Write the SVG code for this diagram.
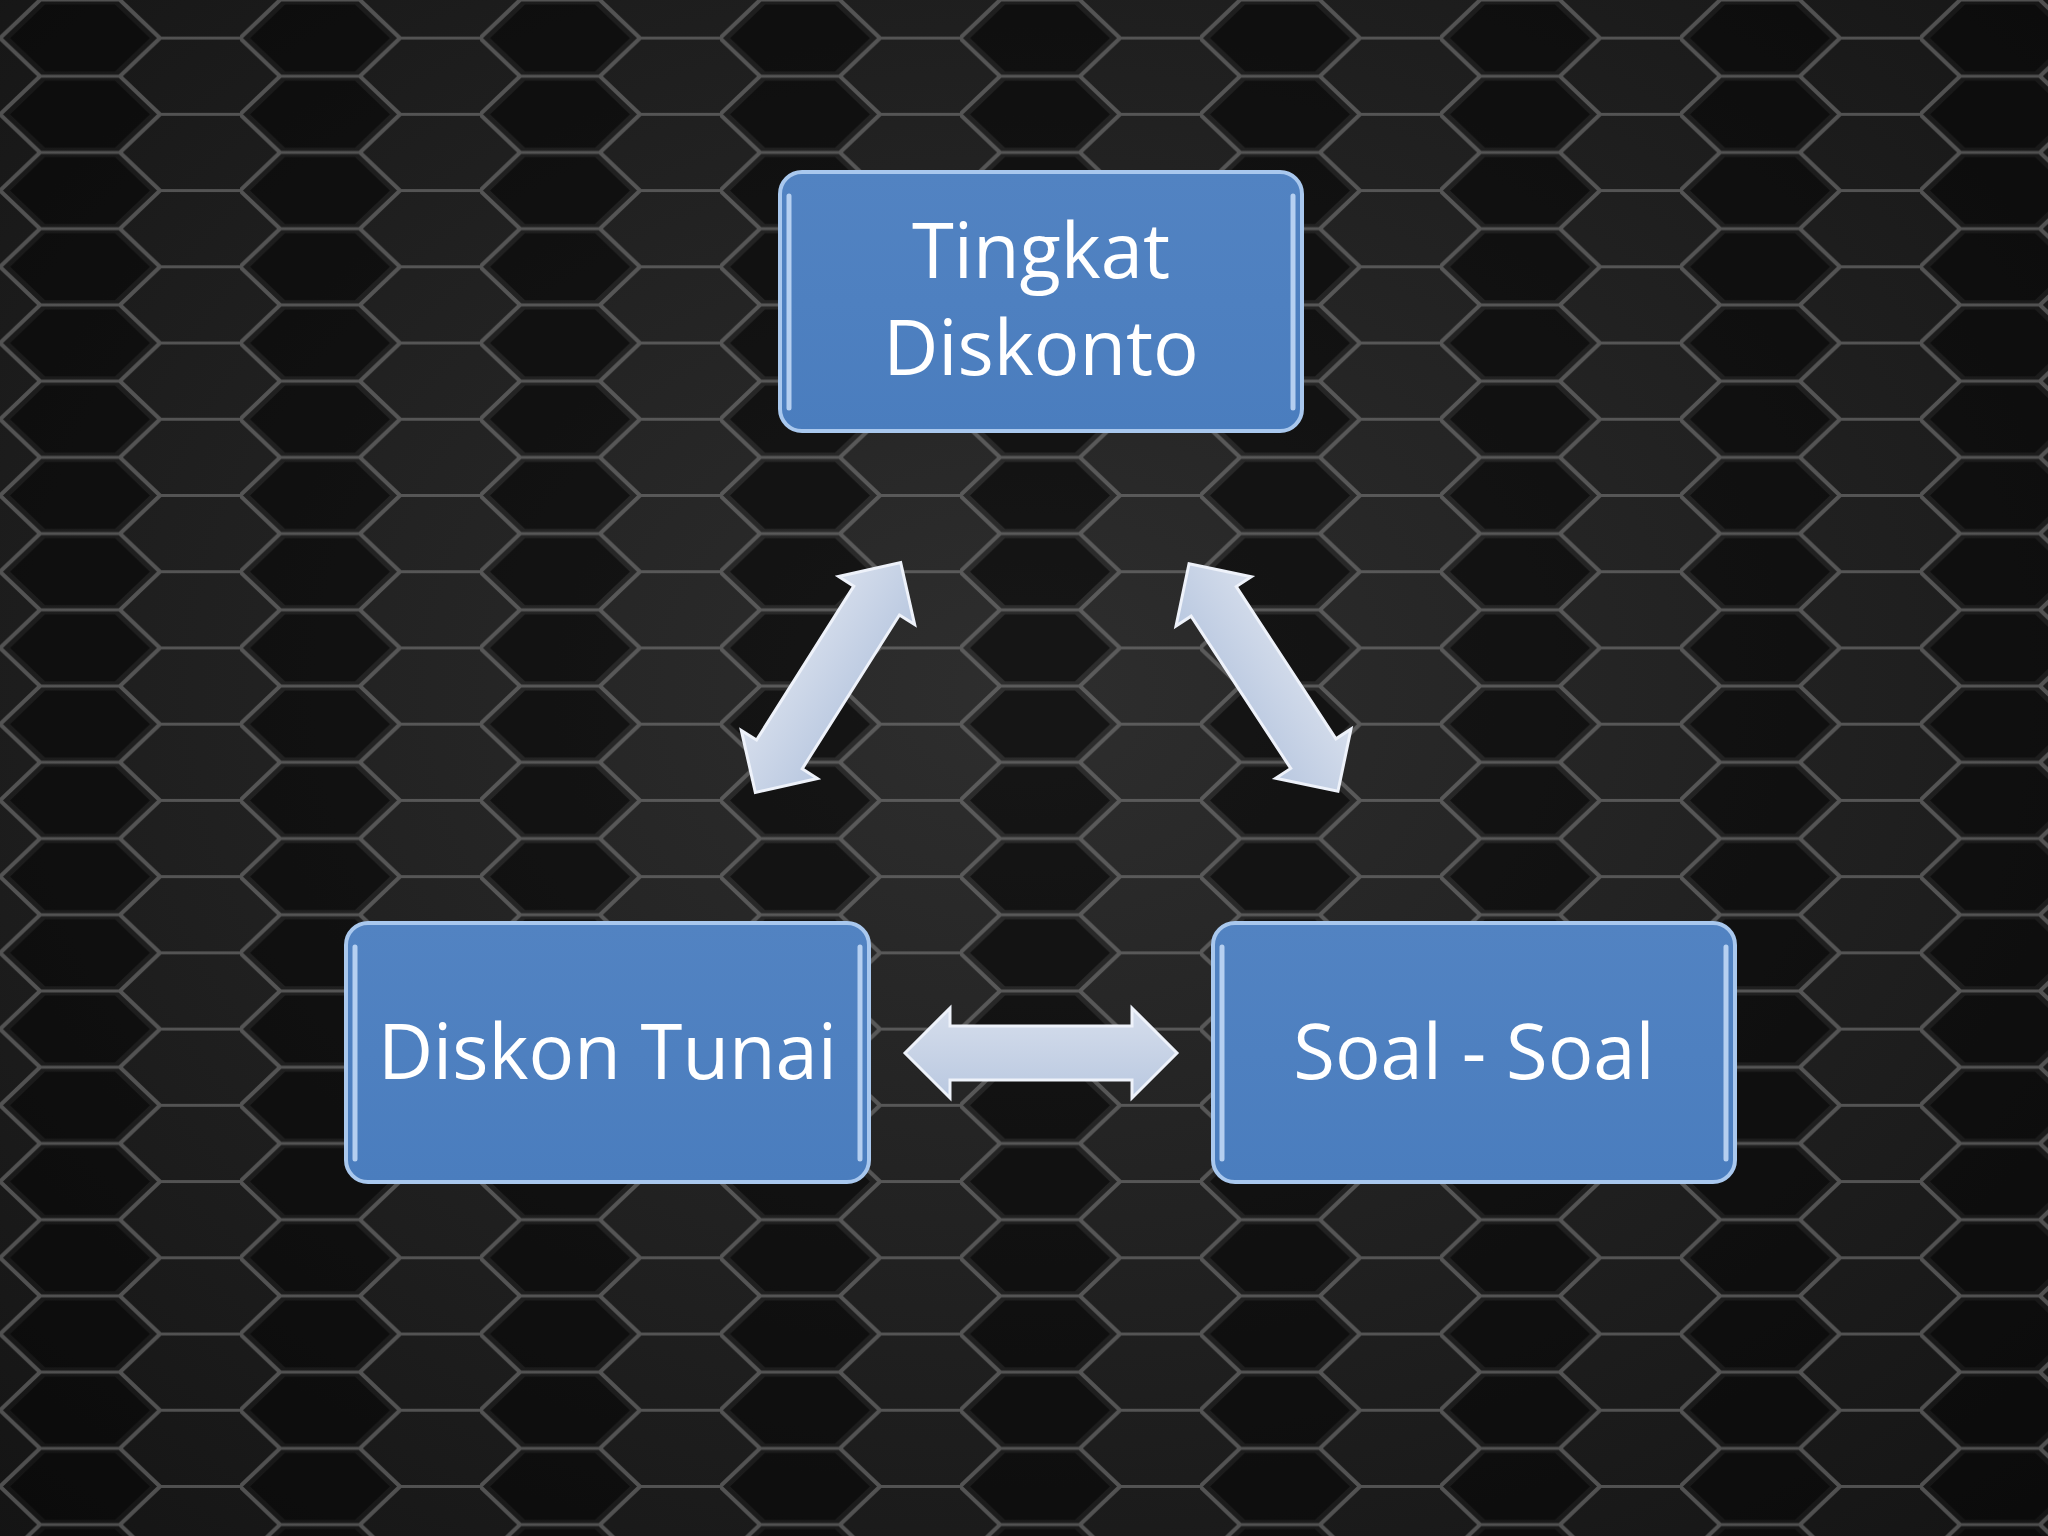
<svg xmlns="http://www.w3.org/2000/svg" width="2048" height="1536" viewBox="0 0 2048 1536">
<defs>
  <radialGradient id="bg" cx="50%" cy="45%" r="75%">
    <stop offset="0" stop-color="#2e2e2e"/>
    <stop offset="1" stop-color="#141414"/>
  </radialGradient>
  <pattern id="hex" width="240" height="138.6" patternUnits="userSpaceOnUse" patternTransform="scale(1,0.55)">
    <path d="M0,69.3 L40,0 L120,0 L160,69.3 L120,138.6 L40,138.6 Z M160,69.3 L240,69.3" fill="none" stroke="#8a8a8a" stroke-width="5" stroke-opacity="0.5"/>
    <path d="M45,8 L115,8 L150,69.3 L115,130 L45,130 L10,69.3 Z" fill="#050505" fill-opacity="0.6"/>
  </pattern>
  <linearGradient id="boxFill" x1="0" y1="0" x2="0" y2="1">
    <stop offset="0" stop-color="#5283c2"/>
    <stop offset="1" stop-color="#4a7dbe"/>
  </linearGradient>
  <linearGradient id="arrowFill" x1="0" y1="0" x2="0" y2="1">
    <stop offset="0" stop-color="#d6deec"/>
    <stop offset="1" stop-color="#b9c8e0"/>
  </linearGradient>
  <path id="dblArrow" d="M-136,0 L-91,-45 L-91,-27 L91,-27 L91,-45 L136,0 L91,45 L91,27 L-91,27 L-91,45 Z"/>
</defs>
<style>
  .box { fill: url(#boxFill); stroke: #a9c8ee; stroke-width: 4; }
  .hl { fill: none; stroke: #cfe4fc; stroke-width: 5; stroke-linecap: round; stroke-opacity: 0.8; }
  .lbl { fill: #ffffff; font-family: "Open Sans", "Liberation Sans", sans-serif; font-size: 76px; text-anchor: middle; }
  .arr { fill: url(#arrowFill); stroke: #eef2fa; stroke-width: 3; stroke-linejoin: miter; }
</style>
<rect width="2048" height="1536" fill="url(#bg)"/>
<rect width="2048" height="1536" fill="url(#hex)"/>

<g id="connectors">
  <use href="#dblArrow" class="arr" transform="translate(828,677.5) rotate(-57.7)"/>
  <use href="#dblArrow" class="arr" transform="translate(1263.5,677.5) rotate(56.8)"/>
  <use href="#dblArrow" class="arr" transform="translate(1041,1053)"/>
</g>

<g id="node-tingkat-diskonto">
  <rect class="box" x="780" y="172" width="522" height="259" rx="22"/>
  <path class="hl" d="M789,196 L789,408 M1293,196 L1293,408"/>
  <text class="lbl" x="1041" y="278">Tingkat</text>
  <text class="lbl" x="1041" y="375">Diskonto</text>
</g>

<g id="node-diskon-tunai">
  <rect class="box" x="346" y="923" width="523" height="259" rx="22"/>
  <path class="hl" d="M355,947 L355,1159 M860,947 L860,1159"/>
  <text class="lbl" x="607.5" y="1079">Diskon Tunai</text>
</g>

<g id="node-soal">
  <rect class="box" x="1213" y="923" width="522" height="259" rx="22"/>
  <path class="hl" d="M1222,947 L1222,1159 M1726,947 L1726,1159"/>
  <text class="lbl" x="1474" y="1079">Soal - Soal</text>
</g>
</svg>
